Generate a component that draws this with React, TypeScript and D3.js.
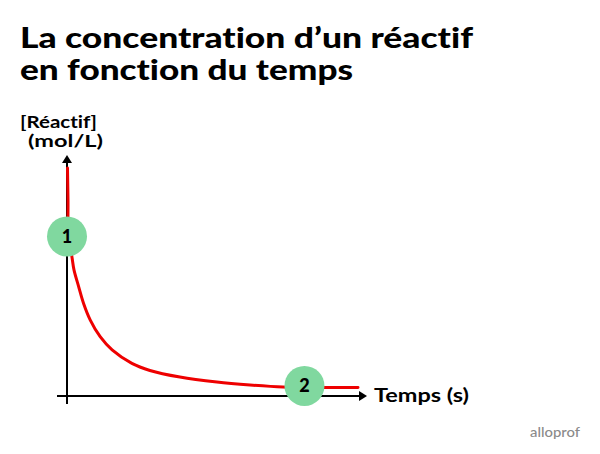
import React from "react";
import * as d3 from "d3";

const timeValues = [0.017, 0.034, 0.05, 0.17, 0.24, 0.4, 0.57, 0.8, 1.14, 1.55, 2.23, 2.85, 3.88, 5.15, 6.29, 7.42, 8.7, 10];
const concentrationValues = [1.0, 0.86, 0.7, 0.61, 0.553, 0.48, 0.406, 0.333, 0.26, 0.202, 0.143, 0.112, 0.083, 0.061, 0.048, 0.039, 0.037, 0.037];
const markerLabels = ["1", "2"];
const markerTimes = [0, 8.16];
const markerConcentrations = [0.7, 0.044];

const titleLines = ["La concentration d\u2019un réactif", "en fonction du temps"];
const yAxisLabel = ["[Réactif]", "(mol/L)"];
const xAxisLabel = "Temps (s)";
const brand = "alloprof";

const W = 600;
const H = 454;
const FONT = "Lato, 'Noto Sans', sans-serif";
const noLig = { fontVariantLigatures: "none" as const };

export default function App() {
  const x = d3.scaleLinear().domain([0, 10]).range([67, 358]);
  const y = d3.scaleLinear().domain([0, 1]).range([396, 168]);

  const pts: [number, number][] = timeValues.map((t, i) => [t, concentrationValues[i]]);
  const line = d3
    .line<[number, number]>()
    .x((d) => x(d[0]))
    .y((d) => y(d[1]))
    .curve(d3.curveCatmullRom.alpha(0.5));

  const x0 = x(0);
  const y0 = y(0);
  const yTop = y(1.057);
  const xRight = x(10.31);

  return (
    <svg width={W} height={H} style={{ position: "absolute", left: 0, top: 0, background: "#fff" }}>
      <rect width={W} height={H} fill="#fff" />
      <text x={20} y={48} style={noLig} fontFamily={FONT} fontWeight={900} fontSize={29} fill="#000" textLength={453} lengthAdjust="spacingAndGlyphs">
        {titleLines[0]}
      </text>
      <text x={20} y={80} style={noLig} fontFamily={FONT} fontWeight={900} fontSize={29} fill="#000" textLength={333} lengthAdjust="spacingAndGlyphs">
        {titleLines[1]}
      </text>
      <text x={20} y={128} style={noLig} fontFamily={FONT} fontWeight={700} fontSize={17} fill="#000" textLength={77} lengthAdjust="spacingAndGlyphs">
        {yAxisLabel[0]}
      </text>
      <text x={28} y={147} style={noLig} fontFamily={FONT} fontWeight={700} fontSize={17} fill="#000" textLength={75} lengthAdjust="spacingAndGlyphs">
        {yAxisLabel[1]}
      </text>

      {/* axes */}
      <line x1={x0} x2={x0} y1={y0 + 8} y2={yTop + 6} stroke="#000" strokeWidth={2} />
      <path d={`M${x0},${yTop} L${x0 - 5},${yTop + 8} L${x0 + 5},${yTop + 8} Z`} fill="#000" />
      <line x1={x0 - 10} x2={xRight - 6} y1={y0} y2={y0} stroke="#000" strokeWidth={2} />
      <path d={`M${xRight},${y0} L${xRight - 8},${y0 - 5} L${xRight - 8},${y0 + 5} Z`} fill="#000" />

      <text x={374} y={402} style={noLig} fontFamily={FONT} fontWeight={700} fontSize={18} fill="#000" textLength={95} lengthAdjust="spacingAndGlyphs">
        {xAxisLabel}
      </text>

      {/* curve */}
      <path d={line(pts) || ""} fill="none" stroke="#ee0000" strokeWidth={3} strokeLinecap="round" strokeLinejoin="round" />

      {markerLabels.map((lab, i) => (
        <g key={lab}>
          <circle cx={x(markerTimes[i])} cy={y(markerConcentrations[i])} r={20} fill="#80d89f" />
          <text
            x={x(markerTimes[i])}
            y={y(markerConcentrations[i]) + 6.5}
            textAnchor="middle"
            fontFamily={FONT}
            fontWeight={900}
            fontSize={18}
            fill="#000"
          >
            {lab}
          </text>
        </g>
      ))}

      <text x={530} y={437} fontFamily={FONT} fontWeight={500} fontSize={14} fill="#8a8a8a" textLength={50} lengthAdjust="spacingAndGlyphs">
        {brand}
      </text>
    </svg>
  );
}
